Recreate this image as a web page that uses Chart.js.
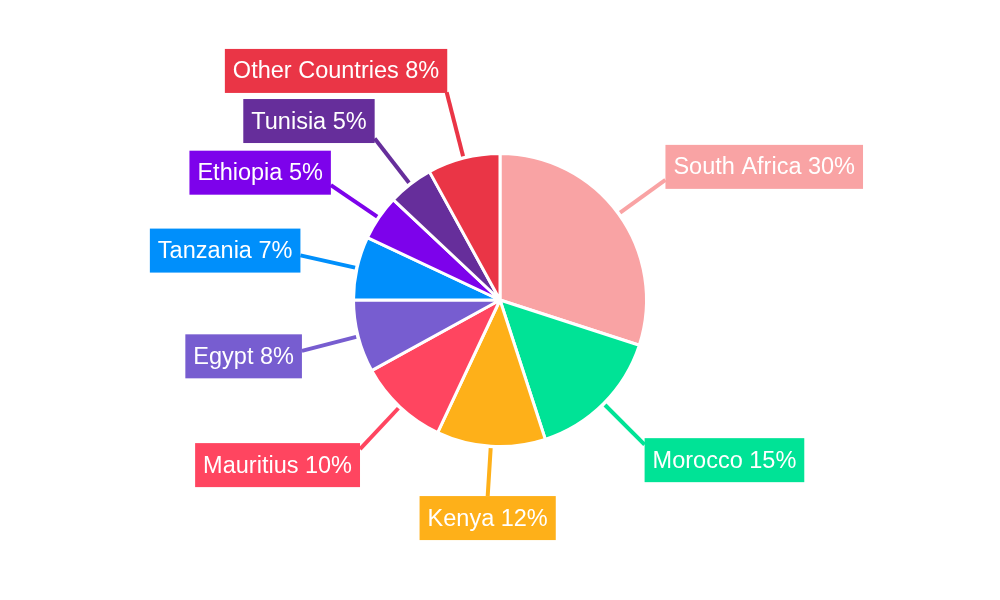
<!DOCTYPE html>
<html><head><meta charset="utf-8">
<script src="https://cdn.jsdelivr.net/npm/chart.js@4"></script>
<style>html,body{margin:0;padding:0;background:#fff}#wrap{width:1000px;height:600px}</style>
</head><body><div id="wrap"><canvas id="c"></canvas></div>
<script>
const categories = ["South Africa","Morocco","Kenya","Mauritius","Egypt","Tanzania","Ethiopia","Tunisia","Other Countries"];
const shares = [30,15,12,10,8,7,5,5,8];
const colors = ["#F9A3A4","#00E396","#FEB019","#FF4560","#775DD0","#008FFB","#7D02EB","#662E9B","#EA3546"];

const labelPlugin = {
  id:'outLabels',
  afterDatasetsDraw(chart){
    const ctx = chart.ctx;
    const meta = chart.getDatasetMeta(0);
    ctx.save();
    ctx.font = '23.5px "Liberation Sans", Arial, sans-serif';
    meta.data.forEach((arc,i)=>{
      const a = (arc.startAngle+arc.endAngle)/2;
      const r = arc.outerRadius;
      const dx = Math.cos(a), dy = Math.sin(a);
      const x0 = arc.x+dx*(r+2), y0 = arc.y+dy*(r+2);
      const len = Math.abs(dx)<0.15 ? 50 : (Math.abs(dx)<0.3 ? 68 : 58);
      const x1 = arc.x+dx*(r+len), y1 = arc.y+dy*(r+len);
      ctx.strokeStyle = colors[i]; ctx.lineWidth = 4;
      ctx.beginPath(); ctx.moveTo(x0,y0); ctx.lineTo(x1,y1); ctx.stroke();
      const txt = categories[i]+' '+shares[i]+'%';
      const w = ctx.measureText(txt).width+16, h = 44;
      const ox = Math.abs(dx)<0.15 ? 0 : Math.sign(dx)*Math.min(1,Math.abs(dx)*4)*w/2;
      const cx = x1+ox, cy = y1+dy*h/2;
      ctx.fillStyle = colors[i];
      ctx.fillRect(cx-w/2, cy-h/2, w, h);
      ctx.fillStyle = '#fff'; ctx.textAlign='center'; ctx.textBaseline='middle';
      ctx.fillText(txt, cx, cy+1);
    });
    ctx.restore();
  }
};

new Chart(document.getElementById('c'),{
  type:'pie',
  data:{labels:categories,datasets:[{data:shares,backgroundColor:colors,borderColor:'#fff',borderWidth:3}]},
  options:{responsive:true,maintainAspectRatio:false,animation:false,
    layout:{padding:{top:152,bottom:152}},
    plugins:{legend:{display:false},tooltip:{enabled:false}}},
  plugins:[labelPlugin]
});
</script></body></html>
